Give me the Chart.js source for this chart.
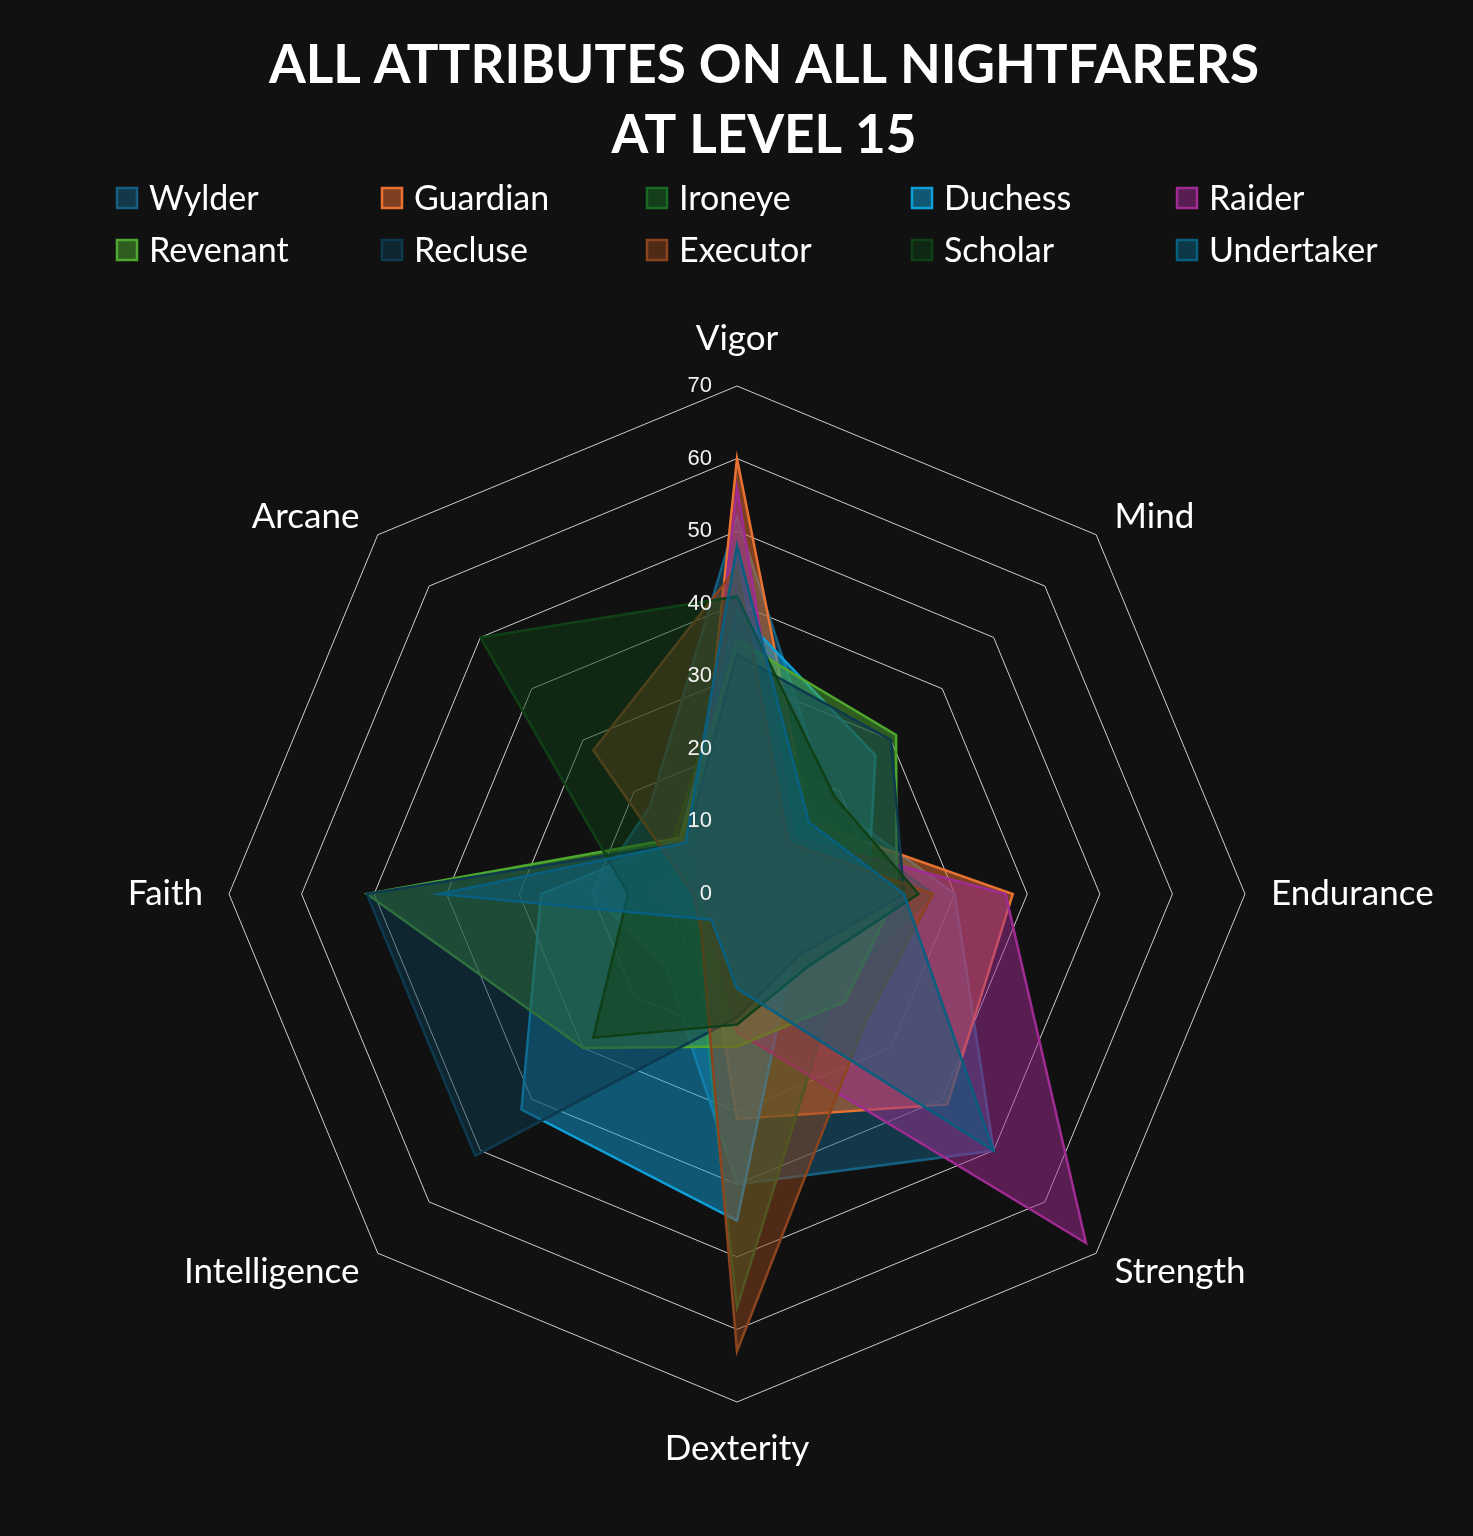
<!DOCTYPE html>
<html>
<head>
<meta charset="utf-8">
<title>All attributes on all Nightfarers at level 15</title>
<script src="https://cdn.jsdelivr.net/npm/chart.js@4.4.1/dist/chart.umd.min.js"></script>
<style>
  html, body { margin: 0; padding: 0; background: #111111; }
  #wrap { width: 1473px; height: 1536px; }
</style>
</head>
<body>
<div id="wrap"><canvas id="radarChart" width="1473" height="1536"></canvas></div>
<script>
// attributes in clockwise order, starting at the top
var attributes = ['Vigor', 'Mind', 'Endurance', 'Strength', 'Dexterity', 'Intelligence', 'Faith', 'Arcane'];
var nightfarers = ['Wylder', 'Guardian', 'Ironeye', 'Duchess', 'Raider', 'Revenant', 'Recluse', 'Executor', 'Scholar', 'Undertaker'];

// values, same order as attributes
var wylder     = [52, 18, 30, 50, 40, 14, 20, 17];
var guardian   = [60, 14, 38, 41, 31, 6, 12, 8];
var ironeye    = [36, 16, 27, 19, 57, 8, 8, 12];
var duchess    = [39, 27, 18, 11, 45, 42, 27, 11];
var raider     = [56, 11, 37, 68, 19, 5, 5, 8];
var revenant   = [35, 31, 22, 21, 21, 30, 51, 11];
var recluse    = [33, 30, 23, 12, 17, 51, 51, 10];
var executor   = [45, 10, 27, 25, 63, 7, 6, 28];
var scholar    = [41, 19, 25, 14, 18, 28, 15, 50];
var undertaker = [48, 14, 23, 50, 13, 5, 41, 10];

var tickValues = [0, 10, 20, 30, 40, 50, 60, 70];
var titleLines = ['ALL ATTRIBUTES ON ALL NIGHTFARERS', 'AT LEVEL 15'];

var lineColors = ['#156082', '#E97132', '#196B24', '#0F9ED5', '#A02B93', '#4EA72E', '#0D3A4E', '#8C441E', '#0F4016', '#095F80'];

function hexToRgba(hex, a) {
    var n = parseInt(hex.slice(1), 16);
    return 'rgba(' + (n >> 16) + ',' + ((n >> 8) & 255) + ',' + (n & 255) + ',' + a + ')';
}

var allValues = [wylder, guardian, ironeye, duchess, raider, revenant, recluse, executor, scholar, undertaker];

var datasets = nightfarers.map(function(name, i) {
    return {
        label: name,
        data: allValues[i],
        borderColor: lineColors[i],
        backgroundColor: hexToRgba(lineColors[i], 0.5),
        borderWidth: 2.5,
        pointRadius: 0,
        fill: true,
        // later series are painted on top, like the original
        order: nightfarers.length - i
    };
});

// title and the 5-column legend
var titleAndLegend = {
    id: 'titleAndLegend',
    afterDraw: function(chart) {
        var ctx = chart.ctx;
        ctx.save();
        ctx.fillStyle = '#ffffff';
        ctx.textAlign = 'center';
        ctx.textBaseline = 'middle';
        ctx.font = 'bold 53px Lato';
        ctx.fillText(titleLines[0], 764, 66);
        ctx.fillText(titleLines[1], 764, 136);

        ctx.font = '34px Lato';
        ctx.textAlign = 'left';
        chart.data.datasets.forEach(function(ds, i) {
            var x = 117 + (i % 5) * 265;
            var y = 198 + Math.floor(i / 5) * 52;
            ctx.fillStyle = ds.backgroundColor;
            ctx.fillRect(x, y - 10, 20, 20);
            ctx.strokeStyle = ds.borderColor;
            ctx.lineWidth = 2.5;
            ctx.strokeRect(x, y - 10, 20, 20);
            ctx.fillStyle = '#ffffff';
            ctx.fillText(ds.label, x + 32, y + 1);
        });
        ctx.restore();
    }
};

// tick numbers sit left of the vertical axis and above the fills
var tickLabels = {
    id: 'tickLabels',
    afterDatasetsDraw: function(chart) {
        var scale = chart.scales.r;
        var ctx = chart.ctx;
        ctx.save();
        ctx.font = '22px "Liberation Sans"';
        ctx.fillStyle = '#f2f2f2';
        ctx.textAlign = 'right';
        ctx.textBaseline = 'middle';
        tickValues.forEach(function(v) {
            var d = scale.getDistanceFromCenterForValue(v);
            ctx.fillText(String(v), scale.xCenter - 25, scale.yCenter - d);
        });
        ctx.restore();
    }
};

var ctx = document.getElementById('radarChart').getContext('2d');
var myRadarChart = new Chart(ctx, {
    type: 'radar',
    data: {
        labels: attributes,
        datasets: datasets
    },
    options: {
        responsive: false,
        animation: false,
        layout: { padding: { top: 318, bottom: 66, left: 60, right: 0 } },
        elements: { line: { tension: 0, borderJoinStyle: 'miter' } },
        plugins: {
            legend: { display: false },
            title: { display: false },
            tooltip: { enabled: false }
        },
        scales: {
            r: {
                min: 0,
                max: 70,
                ticks: { stepSize: 10, display: false },
                grid: { color: '#cfcfcf', lineWidth: 1 },
                angleLines: { display: false },
                pointLabels: {
                    color: '#ffffff',
                    // diagonal labels are centred vertically on their spoke
                    font: function(c) {
                        return { family: 'Lato', size: 35, lineHeight: c.index % 2 === 1 ? 0.01 : 1.2 };
                    },
                    padding: 26
                }
            }
        }
    },
    plugins: [tickLabels, titleAndLegend]
});
</script>
</body>
</html>
